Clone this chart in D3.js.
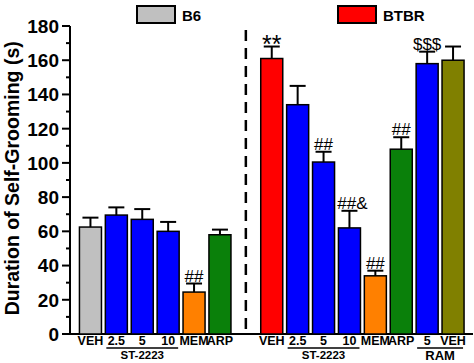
<!DOCTYPE html>
<html><head><meta charset="utf-8">
<script src="https://cdn.jsdelivr.net/npm/d3@7"></script>
<style>body{margin:0;background:#fff}svg{display:block;font-family:"Liberation Sans",Arial,sans-serif;font-weight:bold}</style>
</head><body><svg id="c" width="474" height="363"></svg>
<script>
const b6Labels = ["VEH","2.5","5","10","MEM","ARP"];
const b6Values = [62.5, 69.5, 67, 60, 24.5, 58];
const b6Errors = [5.5, 4.5, 6, 5.5, 5, 3];
const b6Marks = ["","","","","##",""];
const b6Colors = ["#c0c0c0","#0000ff","#0000ff","#0000ff","#ff8000","#0a800a"];

const btbrLabels = ["VEH","2.5","5","10","MEM","ARP","5","VEH"];
const btbrValues = [161, 134, 100.5, 62, 34, 108, 158, 160];
const btbrErrors = [7, 11, 6, 10, 3, 7, 7, 8];
const btbrMarks = ["**","","##","##&","##","##","$$$",""];
const btbrColors = ["#ff0000","#0000ff","#0000ff","#0000ff","#ff8000","#0a800a","#0000ff","#808000"];

const yTicks = [0,20,40,60,80,100,120,140,160,180];
const legendItems = [{name:"B6", color:"#c0c0c0"},{name:"BTBR", color:"#ff0000"}];
const groupLines = [{label:"ST-2223", from:"B6-1", to:"B6-3"},{label:"ST-2223", from:"BTBR-1", to:"BTBR-3"},{label:"RAM", from:"BTBR-6", to:"BTBR-7"}];

const bars = [];
b6Labels.forEach((l,i)=>bars.push({key:"B6-"+i,label:l,value:b6Values[i],err:b6Errors[i],mark:b6Marks[i],color:b6Colors[i]}));
btbrLabels.forEach((l,i)=>bars.push({key:"BTBR-"+i,label:l,value:btbrValues[i],err:btbrErrors[i],mark:btbrMarks[i],color:btbrColors[i]}));
const domain = b6Labels.map((_,i)=>"B6-"+i).concat(["gap"]).concat(btbrLabels.map((_,i)=>"BTBR-"+i));

const svg = d3.select("#c");
const x = d3.scaleBand().domain(domain).range([77.5,466]).paddingInner(0.15).paddingOuter(0.075);
const y = d3.scaleLinear().domain([0,180]).range([334,26]);

// y axis
const yAxis = svg.append("g").attr("transform","translate(70,0)");
yAxis.append("line").attr("x1",0).attr("x2",0).attr("y1",y(180)).attr("y2",y(0)).attr("stroke","#000").attr("stroke-width",2);
d3.range(0,181,10).forEach(v=>{
  const major = v%20===0;
  yAxis.append("line").attr("x1",major?-8:-4).attr("x2",0).attr("y1",y(v)).attr("y2",y(v)).attr("stroke","#000").attr("stroke-width",2);
});
yAxis.selectAll("text.tick").data(yTicks).join("text").attr("class","tick")
  .attr("x",-11).attr("y",d=>y(d)).attr("dy","0.36em").attr("text-anchor","end")
  .attr("font-size",19).text(d=>d);

// x axis line
svg.append("line").attr("x1",69).attr("x2",473).attr("y1",y(0)).attr("y2",y(0)).attr("stroke","#000").attr("stroke-width",2);

// dashed separator
const gx = x("gap")+x.bandwidth()/2;
svg.append("line").attr("x1",gx).attr("x2",gx).attr("y1",30).attr("y2",y(0)).attr("stroke","#000").attr("stroke-width",2.5).attr("stroke-dasharray","11,7");

// bars
svg.selectAll("rect.bar").data(bars).join("rect").attr("class","bar")
  .attr("x",d=>x(d.key)).attr("width",x.bandwidth())
  .attr("y",d=>y(d.value)).attr("height",d=>y(0)-y(d.value))
  .attr("fill",d=>d.color).attr("stroke","#000").attr("stroke-width",1.5);

// error bars
const eb = svg.selectAll("g.err").data(bars).join("g").attr("class","err");
eb.append("line").attr("x1",d=>x(d.key)+x.bandwidth()/2).attr("x2",d=>x(d.key)+x.bandwidth()/2)
  .attr("y1",d=>y(d.value)).attr("y2",d=>y(d.value+d.err)).attr("stroke","#000").attr("stroke-width",2);
eb.append("line").attr("x1",d=>x(d.key)+x.bandwidth()/2-8).attr("x2",d=>x(d.key)+x.bandwidth()/2+8)
  .attr("y1",d=>y(d.value+d.err)).attr("y2",d=>y(d.value+d.err)).attr("stroke","#000").attr("stroke-width",2);

// significance marks
svg.selectAll("text.mark").data(bars.filter(d=>d.mark)).join("text").attr("class","mark")
  .attr("x",d=>x(d.key)+x.bandwidth()/2 + (d.mark==="##&"?3:0))
  .attr("y",d=>y(d.value+d.err)-2 + (d.mark==="**"?8:0))
  .attr("text-anchor","middle").attr("font-weight","normal")
  .attr("font-size",d=>d.mark==="**"?25:17).text(d=>d.mark);

// x labels
svg.selectAll("text.xl").data(bars).join("text").attr("class","xl")
  .attr("x",d=>x(d.key)+x.bandwidth()/2).attr("y",345).attr("text-anchor","middle")
  .attr("font-size",12.5).text(d=>d.label);

// group lines
groupLines.forEach(g=>{
  const x1 = x(g.from)+1, x2 = x(g.to)+x.bandwidth()-1;
  svg.append("line").attr("x1",x1).attr("x2",x2).attr("y1",348).attr("y2",348).attr("stroke","#000").attr("stroke-width",1.5);
  svg.append("text").attr("x",(x1+x2)/2).attr("y",g.label==="RAM"?360:359).attr("text-anchor","middle")
    .attr("font-size",g.label==="RAM"?13:11.5).text(g.label);
});

// legend
const legPos = [137,338];
legendItems.forEach((it,i)=>{
  svg.append("rect").attr("x",legPos[i]).attr("y",6).attr("width",38).attr("height",17).attr("fill",it.color).attr("stroke","#000").attr("stroke-width",2);
  svg.append("text").attr("x",legPos[i]+45).attr("y",20.5).attr("font-size",15).text(it.name);
});

// y title
svg.append("text").attr("transform","translate(19,"+y(91)+") rotate(-90)").attr("text-anchor","middle")
  .attr("font-size",19.5).text("Duration of Self-Grooming (s)");
</script></body></html>
